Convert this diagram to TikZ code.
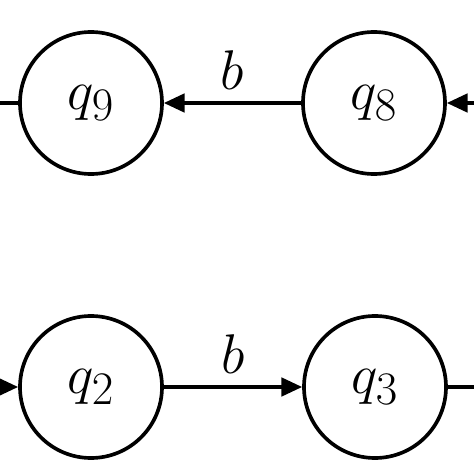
\documentclass[tikz,border=0pt]{standalone}
\usepackage{graphicx}
\usepackage{tikz}
\usetikzlibrary{arrows.meta, positioning}
\newcommand{\statetext}[1]{\scalebox{1.6}{\Huge$#1$}}

\begin{document}
\begin{tikzpicture}[
    >={Triangle[length=5.2mm, width=4.6mm]},
    state/.style={draw, circle, line width=2.6pt, minimum size=3.55cm, inner sep=0pt},
    edge/.style={line width=2.6pt},
]
    \useasboundingbox (0,0) rectangle (11.85,11.85);

    % upper row
    \node[state] (q9) at (2.275,9.275) {\statetext{q_9}};
    \node[state] (q8) at (9.35,9.275) {\statetext{q_8}};
    \coordinate (inL) at (0,9.275);
    \coordinate (inR) at (11.85,9.275);

    % lower row
    \node[state] (q2) at (2.275,2.175) {\statetext{q_2}};
    \node[state] (q3) at (9.375,2.175) {\statetext{q_3}};
    \coordinate (outL) at (0,2.175);
    \coordinate (outR) at (11.85,2.175);

    \draw[edge] (inL) -- (q9);
    \draw[edge, ->] (q8) -- node[above=5pt] {\statetext{b}} (q9);
    \draw[edge, ->] (inR) -- (q8);

    \draw[edge, ->] (outL) -- (q2);
    \draw[edge, ->] (q2) -- node[above=5pt] {\statetext{b}} (q3);
    \draw[edge] (q3) -- (outR);
\end{tikzpicture}
\end{document}
